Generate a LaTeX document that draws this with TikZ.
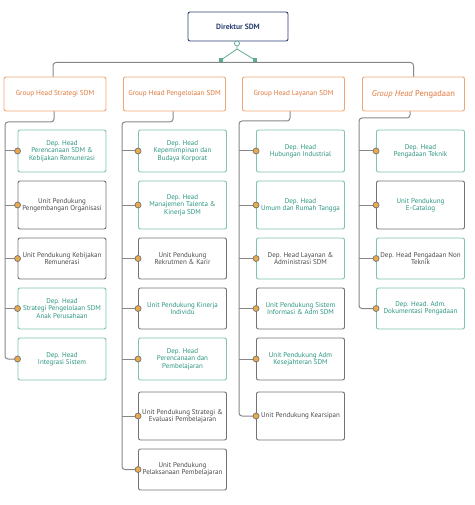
\documentclass[tikz,border=0pt]{standalone}
\usepackage{fontspec}
\setmainfont{PT Sans}
\definecolor{cteal}{RGB}{125,195,175}
\definecolor{ctealtext}{RGB}{45,150,130}
\definecolor{corange}{RGB}{240,165,115}
\definecolor{corangetext}{RGB}{225,120,60}
\definecolor{cnavy}{RGB}{45,65,115}
\definecolor{cgrey}{RGB}{115,115,115}
\definecolor{cdark}{RGB}{75,75,75}
\definecolor{cdot}{RGB}{232,170,75}
\definecolor{cline}{RGB}{135,135,135}
\definecolor{cfork}{RGB}{95,170,150}
\begin{document}
\begin{tikzpicture}[x=1pt,y=-1pt,
  box/.style={draw, rounded corners=2pt, line width=0.9pt, minimum width=88pt,
    align=center, font=\fontsize{7}{7.3}\selectfont, inner sep=1pt, fill=white},
  dh/.style={box, draw=cteal, text=ctealtext},
  dhdark/.style={box, draw=cteal, text=cdark},
  up/.style={box, draw=cgrey, text=cdark},
  upteal/.style={box, draw=cgrey, text=ctealtext},
  gh/.style={draw=corange, text=corangetext, rounded corners=2pt, line width=0.9pt,
    minimum width=102pt, minimum height=34pt, align=center,
    font=\fontsize{7.2}{8}\selectfont, inner sep=1pt, fill=white},
  dir/.style={draw=cnavy, text=cnavy, rounded corners=2pt, line width=0.9pt,
    minimum width=100pt, minimum height=29pt, font=\fontsize{7.6}{8}\selectfont\bfseries,
    inner sep=1pt, fill=white},
  conn/.style={draw=cline, line width=1pt},
  dot/.style={circle, draw=cgrey, line width=0.7pt, fill=cdot, minimum size=6pt, inner sep=0pt},
  hollow/.style={circle, draw=cfork, line width=0.8pt, fill=white, minimum size=5pt, inner sep=0pt},
  sq/.style={rectangle, fill=cfork, minimum size=3.5pt, inner sep=0pt},
  forkline/.style={draw=cfork, line width=0.8pt},
  r1/.style={minimum height=42pt}, r2/.style={minimum height=48pt},
  r3/.style={minimum height=41pt}, r4/.style={minimum height=41pt},
  r5/.style={minimum height=42pt}, r6/.style={minimum height=48pt},
  r7/.style={minimum height=41pt}]
\useasboundingbox (0,0) rectangle (474,505);

% Director
\node[dir] (d) at (238,26.5) {Direktur SDM};
\node[hollow] (hc) at (237,43.5) {};
\coordinate (apex) at (237,49);
\node[sq] (q1) at (221,60) {};
\node[sq] (q2) at (255,60) {};
\draw[forkline] (hc) -- (apex) -- (q1);
\draw[forkline] (apex) -- (q2);

% Group heads
\node[gh] (g1) at (55,94) {Group Head Strategi SDM};
\node[gh] (g2) at (174.5,94) {Group Head Pengelolaan SDM};
\node[gh] (g3) at (293.5,94) {Group Head Layanan SDM};
\node[gh] (g4) at (413.5,94) {\fontsize{8.5}{9}\selectfont\textit{Group Head} Pengadaan};

\coordinate (top) at (237,62.5);
\draw[conn, rounded corners=3pt] ([xshift=-2pt]g1.north) |- (top) -| (g4.north);

% Column 1
\node[dh, r1] (c11) at (62,151) {Dep. Head\\Perencanaan SDM \&\\Kebijakan Remunerasi};
\node[up, r2] (c12) at (62,205) {Unit Pendukung\\Pengembangan Organisasi};
\node[up, r3] (c13) at (62,258.5) {Unit Pendukung Kebijakan\\Remunerasi};
\node[dh, r4] (c14) at (62,308.5) {Dep. Head\\Strategi Pengelolaan SDM\\Anak Perusahaan};
\node[dh, r5] (c15) at (62,359) {Dep. Head\\Integrasi Sistem};

% Column 2
\node[dh, r1] (c21) at (182.5,151) {Dep. Head\\Kepemimpinan dan\\Budaya Korporat};
\node[dh, r2] (c22) at (182.5,205) {Dep. Head\\Manajemen Talenta \&\\Kinerja SDM};
\node[up, r3] (c23) at (182.5,258.5) {Unit Pendukung\\Rekrutmen \& Karir};
\node[upteal, r4] (c24) at (182.5,308.5) {Unit Pendukung Kinerja\\Individu};
\node[dh, r5] (c25) at (182.5,359) {Dep. Head\\Perencanaan dan\\Pembelajaran};
\node[up, r6] (c26) at (182.5,416) {Unit Pendukung Strategi \&\\Evaluasi Pembelajaran};
\node[up, r7] (c27) at (182.5,469.5) {Unit Pendukung\\Pelaksanaan Pembelajaran};

% Column 3
\node[dh, r1] (c31) at (300.5,151) {Dep. Head\\Hubungan Industrial};
\node[dh, r2] (c32) at (300.5,205) {Dep. Head\\Umum dan Rumah Tangga};
\node[dhdark, r3] (c33) at (300.5,258.5) {Dep. Head Layanan \&\\Administrasi SDM};
\node[upteal, r4] (c34) at (300.5,308.5) {Unit Pendukung Sistem\\Informasi \& Adm SDM};
\node[upteal, r5] (c35) at (300.5,359) {Unit Pendukung Adm\\Kesejahteran SDM};
\node[up, r6] (c36) at (300.5,416) {Unit Pendukung Kearsipan};

% Column 4
\node[dh, r1] (c41) at (420.5,151) {Dep. Head\\Pengadaan Teknik};
\node[upteal, r2] (c42) at (420.5,205) {Unit Pendukung\\E-Catalog};
\node[dhdark, r3] (c43) at (420.5,258.5) {Dep. Head Pengadaan Non\\Teknik};
\node[dh, r4] (c44) at (420.5,308.5) {Dep. Head. Adm.\\Dokumentasi Pengadaan};

% Spines
\coordinate (s1) at (5,122);
\coordinate (s2) at (122,122);
\coordinate (s3) at (239,121);
\coordinate (s4) at (359,118);
\draw[conn, rounded corners=3pt] ([xshift=-1pt]g1.south) -- ([xshift=-1pt]g1.south |- s1) -- (s1) |- (c15.west);
\draw[conn, rounded corners=3pt] ([xshift=-1.5pt]g2.south) -- ([xshift=-1.5pt]g2.south |- s2) -- (s2) |- (c27.west);
\draw[conn, rounded corners=3pt] ([xshift=-3.5pt]g3.south) -- ([xshift=-3.5pt]g3.south |- s3) -- (s3) |- (c36.west);
\draw[conn, rounded corners=3pt] ([xshift=-3.5pt]g4.south) -- ([xshift=-3.5pt]g4.south |- s4) -- (s4) |- (c44.west);

\foreach \c in {c11,c12,c13,c14} \draw[conn] (s1 |- \c.west) -- (\c.west);
\foreach \c in {c21,c22,c23,c24,c25,c26} \draw[conn] (s2 |- \c.west) -- (\c.west);
\foreach \c in {c31,c32,c33,c34,c35} \draw[conn] (s3 |- \c.west) -- (\c.west);
\foreach \c in {c41,c42,c43} \draw[conn] (s4 |- \c.west) -- (\c.west);

\foreach \c in {c11,c12,c13,c14,c15,c21,c22,c23,c24,c25,c26,c27,c31,c32,c33,c34,c35,c36,c41,c42,c43,c44}
  \node[dot] at (\c.west) {};
\end{tikzpicture}
\end{document}
